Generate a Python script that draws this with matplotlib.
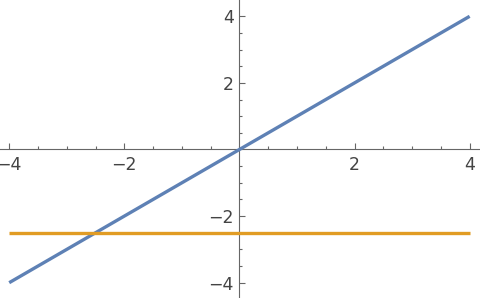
import numpy as np
import matplotlib.pyplot as plt
from matplotlib.ticker import MultipleLocator, FixedLocator

# data
x_line = [-4, 4]
y_line = [-4, 4]
x_const = [-4, 4]
y_const = [-2.5, -2.5]
x_ticks = [-4, -2, 2, 4]
y_ticks = [-4, -2, 2, 4]

fig = plt.figure(figsize=(4.8, 2.98), dpi=100)
ax = fig.add_axes([0, 0, 1, 1])

ax.plot(x_line, y_line, color="#5E81B5", lw=2.4, solid_capstyle="butt", zorder=3)
ax.plot(x_const, y_const, color="#E19C24", lw=2.4, solid_capstyle="butt", zorder=3)

ax.set_xlim(-4.16, 4.18)
ax.set_ylim(-4.46, 4.49)

for side in ["top", "right"]:
    ax.spines[side].set_visible(False)
ax.spines["bottom"].set_position(("data", 0))
ax.spines["left"].set_position(("data", 0))
for side in ["bottom", "left"]:
    ax.spines[side].set_color("#666666")
    ax.spines[side].set_linewidth(0.8)

ax.xaxis.set_major_locator(FixedLocator(x_ticks))
ax.yaxis.set_major_locator(FixedLocator(y_ticks))
ax.xaxis.set_minor_locator(MultipleLocator(0.5))
ax.yaxis.set_minor_locator(MultipleLocator(0.5))
ax.set_xticklabels([f"\u2212{abs(v)}" if v < 0 else str(v) for v in x_ticks])
ax.set_yticklabels([f"\u2212{abs(v)}" if v < 0 else str(v) for v in y_ticks])

ax.tick_params(which="both", direction="in", color="#666666", width=0.8,
               labelcolor="#444444", labelsize=12.5)
ax.tick_params(which="major", length=4.5)
ax.tick_params(which="minor", length=2.5)
ax.tick_params(axis="x", pad=5)
ax.tick_params(axis="y", pad=4)

fig.savefig("out.png", dpi=100)
